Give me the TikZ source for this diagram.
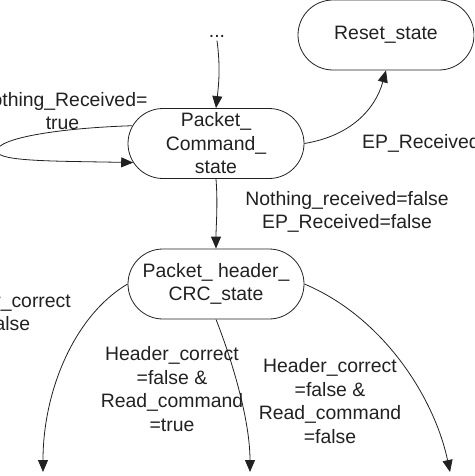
\documentclass[tikz,border=0pt]{standalone}
\usepackage{fontspec}
\setmainfont{Liberation Sans}
\usetikzlibrary{shapes.misc, arrows.meta, positioning}
\definecolor{inkgray}{rgb}{0.13,0.13,0.13}

\begin{document}
\begin{tikzpicture}[x=1pt, y=-1pt, every node/.style={font=\fontsize{19.4}{23.5}\selectfont, text=inkgray}]
    \tikzstyle{state} = [rounded rectangle, draw=inkgray, line width=0.8pt, minimum width=176pt, minimum height=70pt, align=center, inner sep=0pt]
    \tikzstyle{cond} = [align=center, inner sep=0pt]
    \tikzstyle{arr} = [draw=inkgray, line width=0.8pt, -{Triangle[length=12pt,width=10pt]}]

    \clip (0,0) rectangle (474,476);

    % states
    \node[state] (reset) at (386,35){Reset\_state};
    \node[state] (pc) at (216,143.5){Packet\_\\Command\_\\state};
    \node[state] (ph) at (216,284){Packet\_ header\_\\CRC\_state};
    \node (dots) at (217,36){...};

    % open ends at the bottom
    \coordinate (endleft) at (43,472);
    \coordinate (endmid) at (250,472);
    \coordinate (endright) at (450,472);

    % transitions
    \draw[arr] (dots.south) .. controls (221,70) and (218,90) .. (pc.north);
    \draw[arr] (pc.168) .. controls (60,128) and (-3,138) .. (-3,151) .. controls (-3,162) and (60,161) .. (pc.193);
    \draw[arr] (pc.east) .. controls (350,136) and (375,110) .. (reset.south);
    \draw[arr] (pc.south) .. controls (218,205) and (216,225) .. (ph.north);
    \draw[arr] (ph.west) .. controls (75,315) and (43,390) .. (endleft);
    \draw[arr] (ph.south) .. controls (232,360) and (250,420) .. (endmid);
    \draw[arr] (ph.east) .. controls (385,318) and (435,400) .. (endright);

    % conditions
    \node[cond] (loopcond) at (62.5,111){Nothing\_Received=\\true};
    \node[cond, anchor=west] (epcond) at (362,143){EP\_Received=true};
    \node[cond] (nextcond) at (347,212){Nothing\_received=false\\EP\_Received=false};
    \node[cond] (leftcond) at (4,312){Header\_correct\\=false};
    \node[cond] (midcond) at (172,389){Header\_correct\\=false \&\\Read\_command\\=true};
    \node[cond] (rightcond) at (330,401){Header\_correct\\=false \&\\Read\_command\\=false};
\end{tikzpicture}
\end{document}
